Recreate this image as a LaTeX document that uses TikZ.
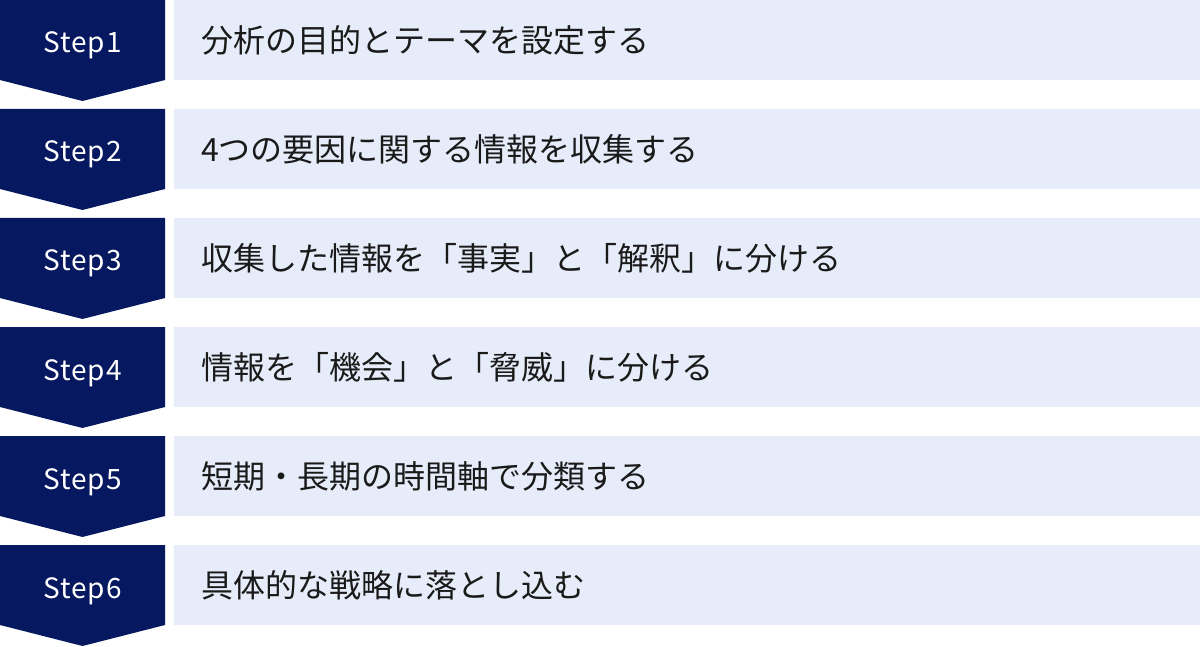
\documentclass[tikz,border=0pt]{standalone}
\usepackage{fontspec}
\newfontfamily\jpfont{Noto Sans CJK JP}
\newfontfamily\stepfont[LetterSpace=4]{Noto Sans CJK JP}
\definecolor{navy}{HTML}{06185F}
\definecolor{barblue}{HTML}{E6ECF9}
\definecolor{txt}{HTML}{1A1A1A}
\tikzset{
  stepshape/.style={fill=navy, draw=none},
  barshape/.style={fill=barblue, draw=none},
  steplabel/.style={text=white, font=\stepfont\fontsize{28}{32}\selectfont, inner sep=0pt, anchor=base},
  barlabel/.style={text=txt, font=\jpfont\fontsize{32}{36}\selectfont, inner sep=0pt, anchor=west},
}
\begin{document}
\begin{tikzpicture}[x=1pt,y=-1pt]
\useasboundingbox (0,0) rectangle (1200,647);
\foreach \i/\t in {1/分析の目的とテーマを設定する,
                   2/4つの要因に関する情報を収集する,
                   3/収集した情報を「事実」と「解釈」に分ける,
                   4/情報を「機会」と「脅威」に分ける,
                   5/短期・長期の時間軸で分類する,
                   6/具体的な戦略に落とし込む}{
  \pgfmathsetmacro{\y}{(\i-1)*109}
  \fill[stepshape] (0,\y) -- (165,\y) -- (165,\y+80) -- (82.5,\y+101) -- (0,\y+80) -- cycle;
  \fill[barshape] (174,\y) rectangle (1200,\y+80);
  \node[steplabel] (s\i) at (82.5,\y+53) {Step\i};
  \node[barlabel] (b\i) at (201,\y+40) {\t};
}
\end{tikzpicture}
\end{document}
